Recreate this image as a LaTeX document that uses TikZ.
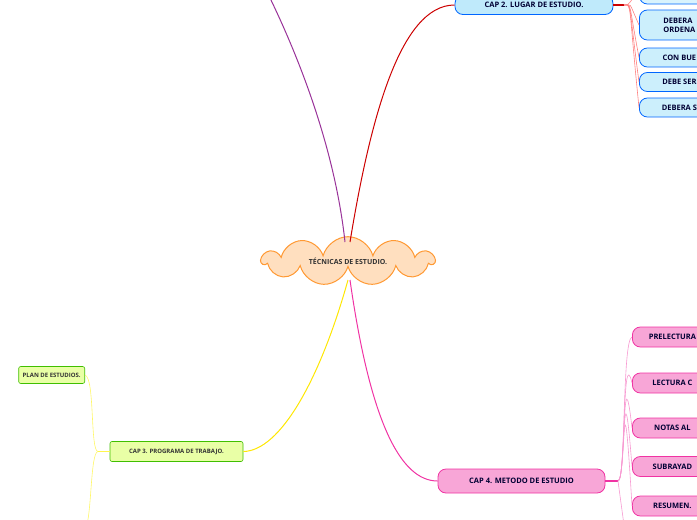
\documentclass[tikz,border=0pt]{standalone}
\usepackage{fontspec}
\setmainfont{Open Sans}
\usetikzlibrary{shapes.symbols}
\begin{document}
\begin{tikzpicture}[x=1pt,y=-1pt,
 bl/.style={draw=blue!60!cyan,fill=cyan!15,rounded corners=8pt,line width=0.8pt,font=\bfseries\fontsize{7.5}{9}\selectfont,text=blue!20!black,anchor=west,align=left,inner xsep=8pt},
 pk/.style={draw=magenta!80,fill=magenta!35,rounded corners=8pt,line width=0.8pt,font=\bfseries\fontsize{7.5}{9}\selectfont,text=blue!20!black,anchor=west,inner xsep=8pt},
 gr/.style={draw=green!50!olive,fill=lime!35,rounded corners=2pt,line width=0.6pt,font=\bfseries\fontsize{6}{7}\selectfont,text=black!80,anchor=west,inner xsep=4pt}]
\useasboundingbox (0,0) rectangle (697,520);
\clip (0,0) rectangle (697,520);
% central
\node[cloud,cloud puffs=11,aspect=4.3,draw=orange!80,fill=orange!25,line width=1pt,minimum width=172pt,minimum height=40pt,inner sep=0pt,font=\bfseries\fontsize{7}{8}\selectfont,text=black!80] (c) at (348,261) {TÉCNICAS DE ESTUDIO.};
\coordinate (top) at (270,-2);
\draw[violet!80,line width=1pt] (345,242) .. controls (335,150) and (300,60) .. (top);
% CAP 2
\node[bl,minimum width=158pt,minimum height=19pt,anchor=center,fill=cyan!25] (c2) at (534,5) {CAP 2. LUGAR DE ESTUDIO.};
\draw[red!80!black,line width=1pt] (350,242) .. controls (370,120) and (400,5) .. (c2.west);
\coordinate (b2) at (624,5);
\draw[red!80!black,line width=1.2pt] (c2.east) -- (b2);
\node[bl,minimum width=80pt,minimum height=20pt] (t0) at (639,-6) {};
\node[bl,minimum width=80pt,minimum height=30pt,fill=cyan!20] (t1) at (639,25) {DEBERA\\ORDENA};
\node[bl,minimum width=80pt,minimum height=19pt,fill=cyan!20] (t2) at (639,57.5) {CON BUE};
\node[bl,minimum width=80pt,minimum height=19pt,fill=cyan!20] (t3) at (639,82) {DEBE SER};
\node[bl,minimum width=80pt,minimum height=19pt,fill=cyan!20] (t4) at (639,107.5) {DEBERA S};
\foreach \t in {t0,t1,t2,t3,t4}
 \draw[red!50,line width=0.6pt] (b2) .. controls (632,5) and (628,0) .. (\t.west);
% CAP 3
\node[gr,minimum width=133pt,minimum height=20pt,anchor=center] (c3) at (176.5,451.5) {CAP 3. PROGRAMA DE TRABAJO.};
\draw[yellow!90!orange,line width=1pt] (348,280) .. controls (320,380) and (280,451) .. (c3.east);
\coordinate (b3) at (98,451.5);
\draw[yellow!70,line width=1pt] (c3.west) -- (b3);
\node[gr,minimum height=17pt,anchor=east] (p1) at (85,375) {PLAN DE ESTUDIOS.};
\node[gr,minimum height=17pt,minimum width=90pt,anchor=east] (p2) at (85,529) {};
\draw[yellow!60,line width=0.6pt] (b3) .. controls (90,451) and (95,378) .. (p1.east);
\draw[yellow!60,line width=0.6pt] (b3) .. controls (90,452) and (92,520) .. (p2.east);
% CAP 4
\node[pk,minimum width=167pt,minimum height=24pt,anchor=center] (c4) at (521.5,481) {CAP 4. METODO DE ESTUDIO};
\draw[magenta!80,line width=1pt] (350,280) .. controls (370,420) and (400,481) .. (c4.west);
\coordinate (b4) at (618,481);
\draw[magenta!80,line width=1.2pt] (c4.east) -- (b4);
\node[pk,minimum width=80pt,minimum height=20pt] (m1) at (632,337) {PRELECTURA};
\node[pk,minimum width=80pt,minimum height=20pt] (m2) at (632,383) {LECTURA C};
\node[pk,minimum width=80pt,minimum height=20pt] (m3) at (632,428) {NOTAS AL};
\node[pk,minimum width=80pt,minimum height=20pt] (m4) at (632,466.5) {SUBRAYAD};
\node[pk,minimum width=80pt,minimum height=20pt] (m5) at (632,506) {RESUMEN.};
\coordinate (m6) at (624,525);
\foreach \t in {m1,m2,m3,m4,m5}
 \draw[magenta!40,line width=0.6pt] (b4) .. controls (626,481) and (622,340) .. (\t.west);
\draw[magenta!40,line width=0.6pt] (b4) -- (m6);
\end{tikzpicture}
\end{document}
